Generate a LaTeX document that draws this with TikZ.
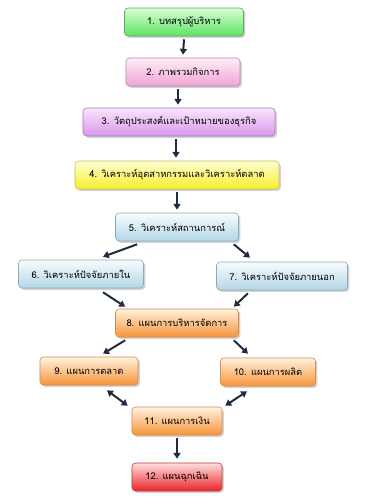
\documentclass[tikz,border=0pt]{standalone}
\usepackage{fontspec}
\usepackage{tikz}
\usetikzlibrary{calc,arrows.meta,shadows}
\newfontfamily\thaifont[Script=Thai]{Loma}
\definecolor{planNavy}{RGB}{30,44,66}
\definecolor{greenTop}{RGB}{214,255,212}
\definecolor{greenBot}{RGB}{96,226,100}
\definecolor{greenLine}{RGB}{92,170,92}
\definecolor{pinkTop}{RGB}{255,238,246}
\definecolor{pinkBot}{RGB}{240,164,212}
\definecolor{pinkLine}{RGB}{190,130,170}
\definecolor{violetTop}{RGB}{248,230,252}
\definecolor{violetBot}{RGB}{218,150,236}
\definecolor{violetLine}{RGB}{170,120,190}
\definecolor{yellowTop}{RGB}{255,255,214}
\definecolor{yellowBot}{RGB}{248,238,40}
\definecolor{yellowLine}{RGB}{200,190,80}
\definecolor{blueTop}{RGB}{248,252,253}
\definecolor{blueBot}{RGB}{178,214,230}
\definecolor{blueLine}{RGB}{140,170,185}
\definecolor{orangeTop}{RGB}{255,242,224}
\definecolor{orangeBot}{RGB}{246,148,56}
\definecolor{orangeLine}{RGB}{215,140,70}
\definecolor{redTop}{RGB}{255,222,222}
\definecolor{redBot}{RGB}{234,36,40}
\definecolor{redLine}{RGB}{190,60,60}

\begin{document}
\begin{tikzpicture}[x=0.03cm,y=-0.03cm,
  planbox/.style={rounded corners=3pt, line width=0.5pt, minimum height=0.84cm,
    inner sep=1pt, font=\thaifont\fontsize{8}{10}\selectfont, text=black,
    drop shadow={opacity=0.35, shadow xshift=1.6pt, shadow yshift=-1.6pt}},
  greenbox/.style={planbox, draw=greenLine, top color=greenTop, bottom color=greenBot},
  pinkbox/.style={planbox, draw=pinkLine, top color=pinkTop, bottom color=pinkBot},
  violetbox/.style={planbox, draw=violetLine, top color=violetTop, bottom color=violetBot},
  yellowbox/.style={planbox, draw=yellowLine, top color=yellowTop, bottom color=yellowBot},
  bluebox/.style={planbox, draw=blueLine, top color=blueTop, bottom color=blueBot},
  orangebox/.style={planbox, draw=orangeLine, top color=orangeTop, bottom color=orangeBot},
  redbox/.style={planbox, draw=redLine, top color=redTop, bottom color=redBot},
  flow/.style={-{Triangle[length=5pt,width=6pt]}, line width=1.7pt, planNavy},
  twoway/.style={{Triangle[length=5pt,width=6pt]}-{Triangle[length=5pt,width=6pt]}, line width=1.7pt, planNavy}]
\useasboundingbox[fill=white] (0,0) rectangle (372,501);

% main column
\node[greenbox, minimum width=3.57cm] (summary) at (184,22) {1. บทสรุปผู้บริหาร};
\node[pinkbox, minimum width=3.42cm] (overview) at (183,72) {2. ภาพรวมกิจการ};
\node[violetbox, minimum width=5.76cm] (goals) at (179,122) {3. วัตถุประสงค์และเป้าหมายของธุรกิจ};
\node[yellowbox, minimum width=6.12cm] (market) at (177,175) {4. วิเคราะห์อุตสาหกรรมและวิเคราะห์ตลาด};
\node[bluebox, minimum width=3.69cm] (situation) at (177,227) {5. วิเคราะห์สถานการณ์};
\node[bluebox, minimum width=3.75cm] (inner) at (81,274) {6. วิเคราะห์ปัจจัยภายใน};
\node[bluebox, minimum width=3.93cm] (outer) at (282,276) {7. วิเคราะห์ปัจจัยภายนอก};
\node[orangebox, minimum width=3.69cm] (manage) at (177,323) {8. แผนการบริหารจัดการ};
\node[orangebox, minimum width=2.94cm] (marketing) at (89,371) {9. แผนการตลาด};
\node[orangebox, minimum width=2.85cm] (production) at (268,372) {10. แผนการผลิต};
\node[orangebox, minimum width=2.7cm] (finance) at (177,421) {11. แผนการเงิน};
\node[redbox, minimum width=2.7cm] (emergency) at (177,477) {12. แผนฉุกเฉิน};

% arrows
\draw[flow] ($(summary.south)+(0,3)$) -- ($(overview.north)+(0,-3)$);
\draw[flow] ($(overview.south)+(-5,3)$) -- ($(goals.north)+(-1,-3)$);
\draw[flow] ($(goals.south)+(-3,3)$) -- ($(market.north)+(-1,-3)$);
\draw[flow] ($(market.south)+(0,3)$) -- ($(situation.north)+(0,-3)$);
\draw[flow] ($(situation.south west)+(22,3)$) -- ($(inner.north)+(22,-3)$);
\draw[flow] ($(situation.south east)+(-5,3)$) -- ($(outer.north)+(-32,-4)$);
\draw[flow] ($(inner.south)+(22,4)$) -- ($(manage.north west)+(10,-2)$);
\draw[flow] ($(outer.south)+(-34,3)$) -- ($(manage.north east)+(-5,-2)$);
\draw[flow] ($(manage.south west)+(10,3)$) -- ($(marketing.north)+(14,-3)$);
\draw[flow] ($(manage.south east)+(-5,3)$) -- ($(production.north)+(-20,-4)$);
\draw[twoway] ($(marketing.south)+(18,5)$) -- ($(finance.north west)+(-4,-1)$);
\draw[twoway] ($(production.south)+(-21,5)$) -- ($(finance.north east)+(3,-1)$);
\draw[flow] ($(finance.south)+(0,3)$) -- ($(emergency.north)+(0,-4)$);
\end{tikzpicture}
\end{document}
